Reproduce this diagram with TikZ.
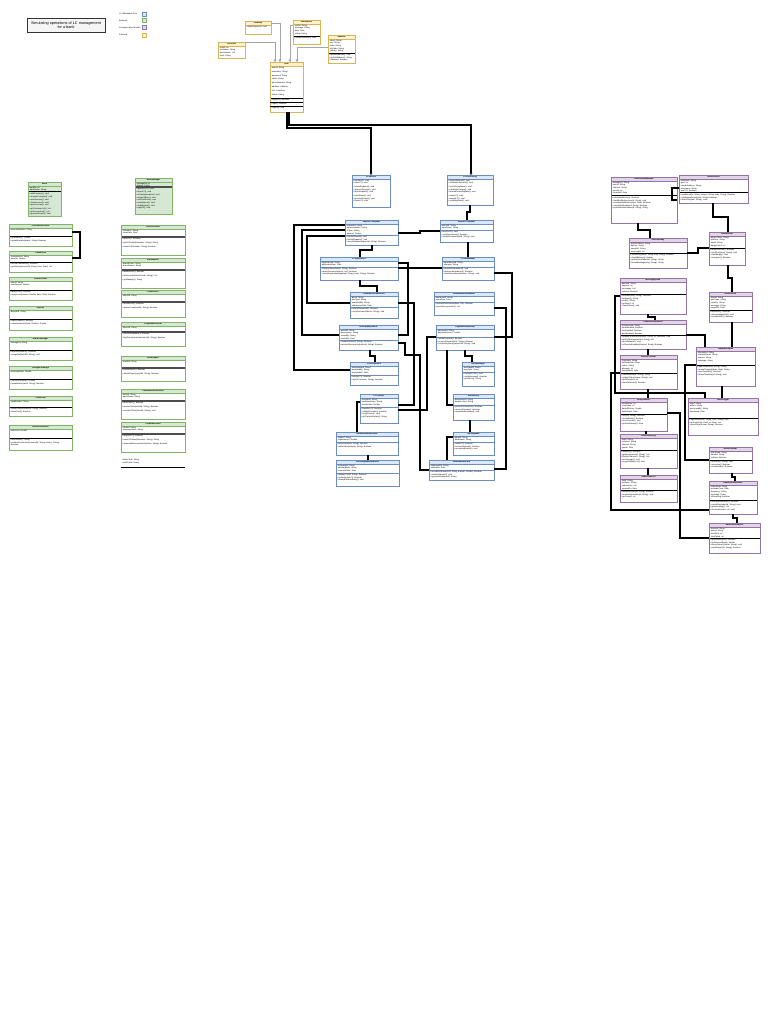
\documentclass[tikz,border=0pt]{standalone}
\usepackage{fontspec}
\setmainfont{Liberation Sans}
\usetikzlibrary{calc,arrows.meta}
\definecolor{bl}{HTML}{6C8EBF}\definecolor{bf}{HTML}{DAE8FC}
\definecolor{gl}{HTML}{82B366}\definecolor{gf}{HTML}{D5E8D4}
\definecolor{pl}{HTML}{9673A6}\definecolor{pf}{HTML}{E1D5E7}
\definecolor{yl}{HTML}{D6B656}\definecolor{yf}{HTML}{FFF2CC}
\definecolor{dsep}{HTML}{4D4D4D}
\colorlet{cl}{bl}\colorlet{cf}{bf}\colorlet{cs}{bl}
\def\seplw{0.6pt}
\tikzset{
  clsnode/.style={inner sep=0pt, outer sep=0pt, draw=none},
  mem/.style={anchor=north west, inner sep=0pt, align=left, font=\fontsize{2}{2.6}\selectfont},
  ttl/.style={inner sep=0pt, font=\bfseries\fontsize{2}{2}\selectfont},
  sepl/.style={draw=cs, line width=\seplw},
  conn/.style={draw=black, line width=1.1pt},
  gconn/.style={draw=black!35, line width=1pt},
  opentip/.style={-{Diamond[open,length=3.4pt,width=2.6pt,line width=0.6pt]}},
  diatip/.style={-{Diamond[length=3.2pt,width=2.6pt]}},
  legtxt/.style={anchor=west, inner sep=0pt, font=\fontsize{2}{2.4}\selectfont},
  legsq/.style={minimum size=4pt, inner sep=0pt, line width=0.6pt}
}
% id, x, y, w, h, separator offset (0 = none), title, attributes, methods
\newcommand\cls[9]{%
  \path (#2,#3) node[clsnode, minimum width=#4pt, minimum height=#5pt, anchor=north west] (#1) {};
  \fill[cf] (#1.north west) rectangle ($(#1.north east)+(0,4)$);
  \node[ttl] at ($(#1.north)+(0,2)$) {#7};
  \draw[cl, line width=.5pt] ($(#1.north west)+(0,4)$) -- ($(#1.north east)+(0,4)$);
  \node[mem] at ($(#1.north west)+(1.2,4.6)$) {#8};
  \ifnum#6>0
    \draw[sepl] ($(#1.north west)+(0,#6)$) -- ($(#1.north east)+(0,#6)$);
    \node[mem] at ($(#1.north west)+(1.2,#6+0.8)$) {#9};
  \fi
  \draw[cl, line width=.7pt] (#1.north west) rectangle (#1.south east);
}
\begin{document}
\begin{tikzpicture}[x=1pt,y=-1pt]
\fill[white] (0,0) rectangle (768,1024);
\useasboundingbox (0,0) rectangle (768,1024);

% ---------- title and legend ----------
\node[draw=black!80, fill=black!4, line width=.6pt, minimum width=78pt, minimum height=14pt, inner sep=0pt,
      align=center, font=\fontsize{3.8}{4.4}\selectfont] (title) at (66,25)
      {Simulating operations of LC management\\for a bank};
\node[legtxt] (l1) at (119,14) {LC Withdrawal Flow};
\node[legtxt] (l2) at (119,20.5) {Backend};
\node[legtxt] (l3) at (119,27.5) {Communication Module};
\node[legtxt] (l4) at (119,35) {Frontend};
\node[legsq, draw=bl, fill=bf] (s1) at (144,14) {};
\node[legsq, draw=gl, fill=gf] (s2) at (144,20.5) {};
\node[legsq, draw=pl, fill=pf] (s3) at (144,27.5) {};
\node[legsq, draw=yl, fill=yf] (s4) at (144,35) {};

% ---------- yellow (frontend) ----------
\colorlet{cl}{yl}\colorlet{cf}{yf}\colorlet{cs}{black}\def\seplw{0.6pt}
\cls{yG}{245}{21}{26}{13}{0}{Gateway}{+makePayment(): void}{}
\cls{yS}{293}{20}{27}{24}{16}{Notification}{-notifId: String\\-message: String\\-date: Date\\-status: String}{+sendNotification(): void}
\cls{yR}{218}{42}{27}{16}{0}{UserRole}{-roleId: int\\-roleName: String\\-permissions: List\\-level: String}{}
\cls{yA}{328}{35}{27}{28}{18}{Address}{-street: String\\-city: String\\-state: String\\-zipCode: String\\-country: String}{+updateAddress(): void\\+getFullAddress(): String\\+validate(): Boolean}
\cls{yU}{270}{62}{33}{50}{36}{User}{-userId: String\\[1.3pt]-username: String\\[1.3pt]-password: String\\[1.3pt]-email: String\\[1.3pt]-phoneNumber: String\\[1.3pt]-address: Address\\[1.3pt]-role: UserRole\\[1.3pt]-status: String}{+register(): Boolean\\[1.4pt]+login(): Boolean\\[1.4pt]+logout(): void}
\draw[black, line width=.6pt] ($(yU.north west)+(0,40.2)$) -- ($(yU.north east)+(0,40.2)$);
\draw[black, line width=.6pt] ($(yU.north west)+(0,44.2)$) -- ($(yU.north east)+(0,44.2)$);

% ---------- blue (LC flow) ----------
\colorlet{cl}{bl}\colorlet{cf}{bf}\colorlet{cs}{bl}\def\seplw{0.6pt}
\cls{B1}{352}{175}{38}{32}{0}{LCService}{+createLC(): void\\+viewLC(): void\\[1.2pt]+submitRequest(): void\\+approveRequest(): void\\+rejectRequest(): void\\[1.2pt]+trackStatus(): void\\+generateReport(): void\\+closeLC(): void}{}
\cls{B2}{447}{175}{46}{30}{0}{LCProcessing}{+receiveRequest(): void\\+validateDocuments(): void\\[1.2pt]+checkCompliance(): void\\+calculateCharges(): void\\+forwardToIssuingBank(): void\\[1.2pt]+issueLC(): void\\+amendLC(): void\\+notifyApplicant(): void}{}
\cls{B3}{345}{220}{53}{25}{15}{ImportLCRequest}{-requestId: String\\-applicantName: String\\-lcType: String\\-amount: Double}{+createRequest(): void\\+submitRequest(): void\\+cancelRequest(requestId: String): Boolean}
\cls{B4}{440}{220}{53}{22}{10}{ExportLCRequest}{-exportId: String\\-beneficiary: String}{+receiveLC(): void\\+verifyDocuments(): Boolean\\+submitDocuments(lcId: String): void}
\cls{B5}{320}{257}{78}{23}{10}{LCApplication}{-applicationId: String\\-applicationDate: Date}{+fillApplication(details: String): Boolean\\+attachDocuments(docs: List): Boolean\\+submitApplication(applicant: String, bank: String): Boolean}
\cls{B6}{442}{257}{52}{23}{10}{LCAmendment}{-amendmentId: String\\-changes: String}{+requestAmendment(): void\\+approveAmendment(): Boolean\\+rejectAmendment(reason: String): void}
\cls{B7}{350}{292}{48}{26}{15}{DocumentSubmission}{-docId: String\\-docType: String\\-submittedBy: String\\-submissionDate: Date}{+uploadDocument(): Boolean\\+verifyDocument(docId: String): void}
\cls{B8}{434}{292}{60}{23}{10}{DocumentExamination}{-examinerId: String\\-examDate: Date}{+examineDocuments(docs: List): Boolean\\+reportDiscrepancies(): List}
\cls{B9}{339}{325}{59}{25}{15}{DiscrepancyNotice}{-noticeId: String\\-discrepancy: String\\-raisedBy: String\\-raisedOn: Date}{+issueNotice(lcId: String): Boolean\\+resolveDiscrepancy(noticeId: String): Boolean}
\cls{B10}{436}{325}{58}{25}{12}{PaymentProcessing}{-paymentId: String\\-paymentAmount: Double}{+initiatePayment(): Boolean\\+processPayment(lcId: String): Boolean\\+confirmPayment(paymentId: String): void}
\cls{B11}{350}{362}{48}{23}{13}{LCAcceptance}{-acceptanceId: String\\-acceptedBy: String\\-acceptedOn: Date}{+acceptLC(): Boolean\\+rejectLC(reason: String): Boolean}
\cls{B12}{462}{362}{32}{24}{10}{SwiftMessage}{-messageId: String\\-msgType: String}{+createMT700(): void\\+sendMessage(): Boolean\\+getStatus(): String}
\cls{B13}{360}{394}{38}{29}{13}{LCTransfer}{-transferId: String\\-newBeneficiary: String\\-transferAmt: Double}{+transferLC(): Boolean\\+validateTransfer(): Boolean\\+notifyParties(): void\\+getTransferDetails(): String}
\cls{B14}{453}{394}{41}{26}{11}{Beneficiary}{-beneficiaryId: String\\-bankAccount: String}{+presentDocuments(): Boolean\\+receivePayment(): Boolean\\+requestAmendment(): void}
\cls{B15}{336}{432}{62}{23}{10}{ReimbursementClaim}{-claimId: String\\-claimAmount: Double}{+raiseClaim(lcId: String): Boolean\\+settleClaim(claimId: String): Boolean}
\cls{B16}{453}{432}{41}{23}{10}{IssuingBank}{-bankId: String\\-bankName: String}{+issueLC(): Boolean\\+honourPayment(): Boolean\\+reviewApplication(): void}
\cls{B17}{336}{460}{63}{26}{13}{AdvisingBankResponse}{-responseId: String\\-advisingBank: String\\-responseDate: Date}{+adviseLC(lcId: String): Boolean\\+authenticateLC(): Boolean\\+forwardToBeneficiary(): void}
\cls{B18}{429}{460}{65}{20}{10}{SettlementRecord}{-settlementId: String\\-settledOn: Date}{+recordSettlement(lcId: String, amount: Double): Boolean\\+closeSettlement(): void\\+generateStatement(): String}

% ---------- green (backend) ----------
\colorlet{cl}{gl}\colorlet{cf}{gf}\colorlet{cs}{black}\def\seplw{1pt}
\fill[gf] (28,182) rectangle (61,216);
\cls{G0}{28}{182}{33}{34}{10}{Bank}{-bankId: int\\-bankName: String}{+addCustomer(): void\\+removeCustomer(): void\\[1pt]+openAccount(): void\\+closeAccount(): void\\+approveLoan(): void\\[1pt]+getCustomerList(): List\\+getAccountList(): List\\+generateReport(): void}
\cls{G1}{9}{224}{63}{22}{12}{CustomerAccount}{-accountNumber: String}{+getBalance(): Double\\+updateDetails(details: String): Boolean}
\cls{G2}{9}{251}{63}{21}{11}{Transaction}{-transactionId: String\\-amount: Double}{+recordTransaction(): Boolean\\+getHistory(accountId: String, from: Date): List}
\cls{G3}{9}{277}{63}{23}{13}{LoanAccount}{-loanId: String\\-loanAmount: Double}{+applyLoan(): Boolean\\+repayLoan(amount: Double, date: Date): Boolean}
\cls{G4}{9}{306}{63}{24}{13}{Deposit}{-depositId: String}{+makeDeposit(): Boolean\\+calculateInterest(rate: Double): Double}
\cls{G5}{9}{337}{63}{23}{13}{BranchManager}{-managerId: String}{+approveAccount(): Boolean\\+assignStaff(staffId: String): void}
\cls{G6}{9}{366}{63}{23}{13}{ForeignExchange}{-exchangeRate: Double}{+convertCurrency(): Double\\+updateRates(rates: String): Boolean}
\cls{G7}{9}{396}{63}{20}{11}{CreditCard}{-cardNumber: String}{+issueCard(customerId: String): Boolean\\+blockCard(): Boolean}
\cls{G8}{9}{425}{63}{25}{13}{RiskAssessment}{-riskScore: Double}{+assessRisk(): String\\+evaluateCustomer(customerId: String, history: String):\\\ Boolean}

\colorlet{cs}{dsep}\def\seplw{1.3pt}
\fill[gf] (135,178) rectangle (172,214);
\cls{H0}{135}{178}{37}{36}{9}{BankManager}{-managerId: int\\-branch: String}{+approveLC(): void\\+rejectLC(): void\\[1pt]+reviewApplication(): void\\+assignOfficer(): void\\+setCreditLimit(): void\\+viewReports(): void\\+auditBranch(): void\\+signOff(): void}
\cls{H1}{121}{225}{64}{30}{12}{LetterOfCredit}{-lcNumber: String\\-issueDate: Date}{+openLC(): Boolean\\[1.5pt]+getLCDetails(lcNumber: String): String\\[1.5pt]+closeLC(lcNumber: String): Boolean}
\cls{H2}{121}{258}{64}{30}{12}{BankBranch}{-branchCode: String\\-branchName: String}{+addAccount(): Boolean\\[1.5pt]+listAccounts(branchCode: String): List\\[1.5pt]+getManager(): String}
\cls{H3}{121}{290}{64}{27}{12}{LoanOfficer}{-officerId: String}{+reviewLoan(): Boolean\\[1.5pt]+approveLoan(loanId: String): Boolean}
\cls{H4}{121}{322}{64}{24}{10}{ComplianceOfficer}{-officerId: String}{+checkCompliance(): Boolean\\[1.5pt]+flagTransaction(transactionId: String): Boolean}
\cls{H5}{121}{356}{64}{25}{12}{AuditReport}{-reportId: String}{+createReport(): Boolean\\[1.5pt]+submitReport(reportId: String): Boolean}
\cls{H6}{121}{389}{64}{30}{12}{CustomerServiceDesk}{-deskId: String\\-agentName: String}{+raiseTicket(): Boolean\\[1.5pt]+resolveTicket(ticketId: String): Boolean\\[1.5pt]+escalateTicket(ticketId: String): void}
\cls{H7}{121}{422}{64}{30}{12}{CorporateClient}{-clientId: String\\-companyName: String}{+requestLC(): Boolean\\[1.5pt]+trackLCStatus(lcNumber: String): String\\[1.5pt]+downloadDocuments(lcNumber: String): Boolean}
\node[mem] (hx) at (122,458.5) {+bankCode: String\\[1pt]+swiftCode: String};
\draw[black, line width=1.2pt] (121,467.5) -- (185,467.5);

% ---------- purple (communication) ----------
\colorlet{cl}{pl}\colorlet{cf}{pf}\colorlet{cs}{black}\def\seplw{1pt}
\cls{P1}{611}{177}{66}{46}{19}{NotificationManager}{-managerId: String\\-userId: String\\-channel: String\\-priority: int\\-createdAt: Date}{+createNotification(): Boolean\\+sendNotification(userId: String): void\\+scheduleNotification(time: Date): Boolean\\+cancelNotification(id: String): Boolean\\+getNotificationStatus(id: String): String}
\cls{P2}{679}{175}{69}{28}{18}{EmailService}{-smtpHost: String\\-port: int\\-senderAddress: String\\-username: String\\-useTLS: Boolean}{+sendEmail(to: String, subject: String, body: String): Boolean\\+validateAddress(email: String): Boolean\\+attachFile(path: String): void}
\cls{P3}{629}{238}{58}{30}{15}{SMSGateway}{-providerName: String\\-apiKey: String\\-senderId: String\\-maxLength: int}{+sendSMS(phone: String, msg: String): Boolean\\+checkBalance(): Double\\+getDeliveryReport(id: String): String\\+formatMessage(msg: String): String}
\cls{P4}{709}{232}{36}{33}{16}{PushNotifier}{-deviceToken: String\\-platform: String\\-appId: String\\-badgeCount: int}{+registerDevice(): Boolean\\+sendPush(msg: String): void\\+clearBadge(): void\\+unregister(): Boolean}
\cls{P5}{620}{278}{66}{36}{16}{MessageQueue}{-queueId: String\\-capacity: int\\-messages: List\\-isActive: Boolean}{+enqueue(msg: String): Boolean\\+dequeue(): String\\+peek(): String\\+getSize(): int\\+clearQueue(): void}
\cls{P6}{709}{292}{43}{30}{18}{AlertService}{-alertId: String\\-alertType: String\\-severity: String\\-message: String\\-raisedOn: Date}{+raiseAlert(): Boolean\\+acknowledgeAlert(): void\\+escalateAlert(): Boolean}
\cls{P7}{620}{320}{66}{29}{15}{ChannelPreferences}{-preferenceId: String\\-emailEnabled: Boolean\\-smsEnabled: Boolean\\-pushEnabled: Boolean}{+updatePreference(channel: String, on: Boolean): void\\+getPreferences(userId: String): List\\+resetDefaults(): void\\+isChannelEnabled(channel: String): Boolean}
\cls{P8}{696}{347}{59}{39}{18}{TemplateEngine}{-templateId: String\\-templateName: String\\-content: String\\-language: String}{+loadTemplate(id: String): String\\+renderTemplate(data: Map): String\\+saveTemplate(): Boolean\\+deleteTemplate(id: String): void}
\cls{P9}{620}{355}{57}{34}{18}{DeliveryTracker}{-trackingId: String\\-notificationId: String\\-status: String\\-attempts: int\\-lastUpdated: Date}{+trackDelivery(id: String): String\\+updateStatus(status: String): void\\+getAttempts(): int\\+markDelivered(): Boolean}
\cls{P10}{620}{398}{47}{33}{16}{RetryHandler}{-maxRetries: int\\-retryDelay: int\\-backoffFactor: Double\\-lastAttempt: Date}{+retry(id: String): Boolean\\+shouldRetry(): Boolean\\+resetCounter(): void\\+getNextAttempt(): Date}
\cls{P11}{688}{398}{70}{37}{20}{AuditLogger}{-logId: String\\-action: String\\-performedBy: String\\-timestamp: Date}{+logAction(action: String, user: String): void\\+getLogs(from: Date, to: Date): List\\+exportLogs(format: String): Boolean}
\cls{P12}{620}{434}{57}{34}{16}{NotificationLog}{-logId: String\\-recipient: String\\-channel: String\\-sentAt: Date}{+addEntry(): Boolean\\+getEntries(userId: String): List\\+filterByChannel(c: String): List\\+archiveLogs(): void\\+purgeOld(days: int): void}
\cls{P13}{709}{447}{43}{26}{13}{EventListener}{-eventType: String\\-handler: String\\-isActive: Boolean}{+onEvent(e: String): void\\+subscribe(): Boolean\\+unsubscribe(): Boolean}
\cls{P14}{620}{475}{57}{27}{15}{SubscriberList}{-listId: String\\-listName: String\\-subscribers: List\\-createdOn: Date}{+addSubscriber(id: String): Boolean\\+removeSubscriber(id: String): void\\+getCount(): int}
\cls{P15}{709}{481}{48}{33}{19}{ReminderScheduler}{-scheduleId: String\\-reminderTime: Date\\-frequency: String\\-message: String\\-isRecurring: Boolean}{+scheduleReminder(): Boolean\\+cancelReminder(id: String): void\\+getUpcoming(): List\\+snooze(minutes: int): void}
\cls{P16}{709}{523}{51}{30}{15}{NotificationReport}{-reportId: String\\-period: String\\-totalSent: int\\-totalFailed: int}{+generateReport(): Boolean\\+getSuccessRate(): Double\\+exportReport(format: String): void\\+emailReport(to: String): Boolean}

% ---------- connectors: frontend ----------
\draw[gconn,diatip] (yR.east|-0,43) -| (275,0|-yU.north);
\draw[gconn,diatip] (yG.east|-0,24) -| (280,0|-yU.north);
\draw[gconn,diatip] (yS.west|-0,26) -| (290,0|-yU.north);
\draw[gconn,diatip] (yA.west|-0,48) -| (297,0|-yU.north);
\draw[conn,opentip] (287,0|-yU.south) |- (371,128) -- (371,0|-B1.north);
\draw[conn,opentip] (289,0|-yU.south) |- (471,125) -- (471,0|-B2.north);

% ---------- connectors: LC flow ----------
\draw[conn] (470,0|-B2.south) -- (470,212) -- (467,212) -- (467,0|-B4.north);
\draw[conn] (B3.east|-0,233) -- (420,233) -- (420,231) -- (B4.west|-0,231);
\draw[conn] (372,0|-B3.south) -- (372,250) -- (360,250) -- (360,0|-B5.north);
\draw[conn] (360,0|-B5.south) -- (360,286) -- (377,286) -- (377,0|-B7.north);
\draw[conn] (468,0|-B4.south) -- (468,0|-B6.north);
\draw[conn] (B3.west|-0,225) -| (294,370) -- (B11.west|-0,370);
\draw[conn] (B3.west|-0,230) -| (302,335) -- (B9.west|-0,335);
\draw[conn] (B3.west|-0,236) -| (307,303) -- (B7.west|-0,303);
\draw[conn] (B5.east|-0,263) -| (408,335) -- (B9.east|-0,335);
\draw[conn] (B5.east|-0,268) -- (B6.west|-0,268);
\draw[conn] (B7.east|-0,303) -| (414,405) -- (B13.east|-0,405);
\draw[conn] (B9.east|-0,343) -- (405,343) -- (405,355) -- (420,355) -- (420,470) -- (B18.west|-0,470);
\draw[conn] (B10.west|-0,337) -| (427,410) -- (B13.east|-0,410);
\draw[conn] (447,0|-B10.south) |- (B14.west|-0,405);
\draw[conn] (465,0|-B10.south) -- (465,356) -- (472,356) -- (472,0|-B12.north);
\draw[conn] (470,0|-B14.south) -- (470,0|-B16.north);
\draw[conn] (B16.west|-0,437) -| (447,0|-B18.north);
\draw[conn] (370,0|-B9.south) -- (370,356) -- (375,356) -- (375,0|-B11.north);
\draw[conn] (B13.west|-0,402) -| (357,0|-B15.north);
\draw[conn] (368,0|-B15.south) -- (368,0|-B17.north);
\draw[conn] (B6.east|-0,273) -| (512,337) -- (B10.east|-0,337);
\draw[conn] (B8.east|-0,308) -| (506,469) -- (B18.east|-0,469);

% ---------- connectors: backend ----------
\draw[conn] (G1.east|-0,232) -| (80,258) -- (G2.east|-0,258);

% ---------- connectors: communication ----------
\draw[conn] (638,0|-P1.south) -- (638,230) -- (650,230) -- (650,0|-P3.north);
\draw[conn] (P2.west|-0,188) -- (672,188) -- (672,200) -- (P1.east|-0,200);
\draw[conn] (713,0|-P2.south) -- (713,217) -- (728,217) -- (728,0|-P4.north);
\draw[conn] (P4.west|-0,248) -- (698,248) -- (698,253) -- (P3.east|-0,253);
\draw[conn] (728,0|-P4.south) -- (728,278) -- (732,278) -- (732,0|-P6.north);
\draw[conn] (648,0|-P5.south) -- (648,317) -- (655,317) -- (655,0|-P7.north);
\draw[conn] (732,0|-P6.south) -- (732,0|-P8.north);
\draw[conn] (648,0|-P7.south) -- (648,0|-P9.north);
\draw[conn] (P7.east|-0,335) -| (705,0|-P8.north);
\draw[conn] (P8.west|-0,365) -| (685,460) -- (P13.west|-0,460);
\draw[conn] (P9.west|-0,373) -| (611,510) -- (P15.west|-0,510);
\draw[conn] (P5.west|-0,296) -| (615,393) -| (705,0|-P11.north);
\draw[conn] (722,0|-P8.south) -- (722,0|-P11.north);
\draw[conn] (648,0|-P9.south) -- (648,0|-P10.north);
\draw[conn] (P10.east|-0,413) -| (680,538) -- (P16.west|-0,538);
\draw[conn] (646,0|-P10.south) -- (646,0|-P12.north);
\draw[conn] (648,0|-P12.south) -- (648,0|-P14.north);
\draw[conn] (732,0|-P13.south) -- (732,477) -- (735,477) -- (735,0|-P15.north);
\draw[conn] (733,0|-P15.south) -- (733,518) -- (737,518) -- (737,0|-P16.north);
\end{tikzpicture}
\end{document}
